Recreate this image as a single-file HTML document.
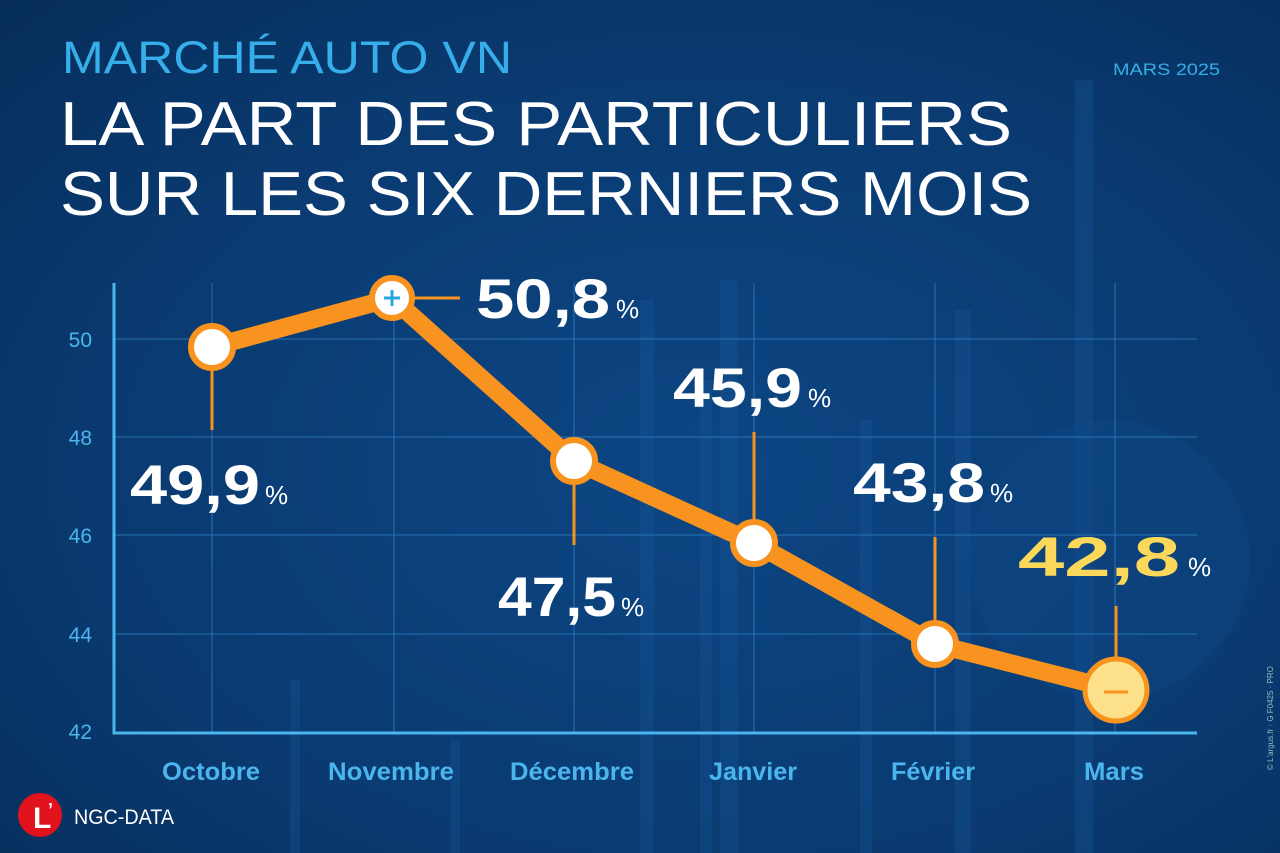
<!DOCTYPE html>
<html><head><meta charset="utf-8"><style>
html,body{margin:0;padding:0;width:1280px;height:853px;overflow:hidden;background:#093a6e}
svg{display:block}
</style></head><body>
<svg width="1280" height="853" viewBox="0 0 1280 853" xmlns="http://www.w3.org/2000/svg" font-family="Liberation Sans, sans-serif">
<defs>
<radialGradient id="bg" cx="0.55" cy="0.55" r="0.8">
<stop offset="0" stop-color="#0c4684"/><stop offset="0.6" stop-color="#0a3a70"/><stop offset="1" stop-color="#062c58"/>
</radialGradient>
</defs>
<rect width="1280" height="853" fill="url(#bg)"/>
<g fill="#1a5a9c" opacity="0.3">
<rect x="640" y="300" width="14" height="553"/><rect x="700" y="380" width="12" height="473"/><rect x="720" y="280" width="18" height="573"/>
<rect x="955" y="310" width="16" height="543"/><rect x="1075" y="80" width="18" height="773"/><rect x="450" y="740" width="10" height="113"/>
<rect x="290" y="680" width="10" height="173"/><rect x="860" y="420" width="12" height="433"/>
</g>
<circle cx="1110" cy="560" r="140" fill="#0d4a8a" opacity="0.35"/>
<text x="62" y="73" font-size="45" fill="#35aee9" textLength="450" lengthAdjust="spacingAndGlyphs">MARCHÉ AUTO VN</text>
<text x="1113" y="75" font-size="17" fill="#35aee9" textLength="107" lengthAdjust="spacingAndGlyphs">MARS 2025</text>
<text x="60" y="145" font-size="62" fill="#ffffff" textLength="952" lengthAdjust="spacingAndGlyphs">LA PART DES PARTICULIERS</text>
<text x="60" y="215" font-size="62" fill="#ffffff" textLength="972" lengthAdjust="spacingAndGlyphs">SUR LES SIX DERNIERS MOIS</text>
<g stroke="#2e7fc4" stroke-width="1" opacity="0.8">
<line x1="114" y1="339" x2="1197" y2="339"/><line x1="114" y1="437" x2="1197" y2="437"/>
<line x1="114" y1="535" x2="1197" y2="535"/><line x1="114" y1="634" x2="1197" y2="634"/>
<line x1="212" y1="283" x2="212" y2="733"/><line x1="394" y1="283" x2="394" y2="733"/>
<line x1="574" y1="283" x2="574" y2="733"/><line x1="754" y1="283" x2="754" y2="733"/>
<line x1="935" y1="283" x2="935" y2="733"/><line x1="1115" y1="283" x2="1115" y2="733"/>
</g>
<polyline points="114,283 114,733 1197,733" fill="none" stroke="#4bb6ee" stroke-width="3"/>
<g font-size="21" fill="#4bb6ee" text-anchor="end">
<text x="92" y="347">50</text><text x="92" y="445">48</text><text x="92" y="543">46</text><text x="92" y="642">44</text><text x="92" y="739">42</text>
</g>
<g font-size="25" fill="#4bb6ee" text-anchor="middle" font-weight="bold">
<text x="211" y="780" textLength="98" lengthAdjust="spacingAndGlyphs">Octobre</text>
<text x="391" y="780" textLength="126" lengthAdjust="spacingAndGlyphs">Novembre</text>
<text x="572" y="780" textLength="124" lengthAdjust="spacingAndGlyphs">Décembre</text>
<text x="753" y="780" textLength="88" lengthAdjust="spacingAndGlyphs">Janvier</text>
<text x="933" y="780" textLength="84" lengthAdjust="spacingAndGlyphs">Février</text>
<text x="1114" y="780" textLength="60" lengthAdjust="spacingAndGlyphs">Mars</text>
</g>
<g stroke="#f7931e" stroke-width="3">
<line x1="212" y1="347" x2="212" y2="430"/><line x1="392" y1="298" x2="460" y2="298"/>
<line x1="574" y1="461" x2="574" y2="545"/><line x1="754" y1="432" x2="754" y2="543"/>
<line x1="935" y1="537" x2="935" y2="644"/><line x1="1116" y1="606" x2="1116" y2="690"/>
</g>
<polyline points="212,347 392,298 574,461 754,543 935,644 1116,690" fill="none" stroke="#f7931e" stroke-width="18" stroke-linejoin="round"/>
<g fill="#fff" stroke="#f7931e" stroke-width="6">
<circle cx="212" cy="347" r="21"/><circle cx="392" cy="298" r="20"/><circle cx="574" cy="461" r="21"/>
<circle cx="754" cy="543" r="21"/><circle cx="935" cy="644" r="21"/>
</g>
<circle cx="1116" cy="690" r="31" fill="#fde08a" stroke="#f7931e" stroke-width="5"/>
<line x1="1104" y1="692" x2="1128" y2="692" stroke="#f7931e" stroke-width="3"/>
<g stroke="#29a8e0" stroke-width="3"><line x1="384" y1="298" x2="400" y2="298"/><line x1="392" y1="290" x2="392" y2="306"/></g>
<g font-weight="bold" font-size="56" fill="#fff" lengthAdjust="spacingAndGlyphs">
<text x="130" y="504" textLength="130" lengthAdjust="spacingAndGlyphs">49,9</text>
<text x="476" y="318" textLength="134" lengthAdjust="spacingAndGlyphs">50,8</text>
<text x="498" y="616" textLength="118" lengthAdjust="spacingAndGlyphs">47,5</text>
<text x="673" y="407" textLength="129" lengthAdjust="spacingAndGlyphs">45,9</text>
<text x="853" y="502" textLength="132" lengthAdjust="spacingAndGlyphs">43,8</text>
<text x="1018" y="576" textLength="162" lengthAdjust="spacingAndGlyphs" fill="#fbd85a">42,8</text>
</g>
<g font-size="26" fill="#fff">
<text x="265" y="504">%</text><text x="616" y="318">%</text><text x="621" y="616">%</text>
<text x="808" y="407">%</text><text x="990" y="502">%</text><text x="1188" y="576">%</text>
</g>
<circle cx="40" cy="815" r="22" fill="#e2121c"/>
<text x="33" y="828" font-size="30" font-weight="bold" fill="#fff">L</text>
<text x="48" y="816" font-size="18" font-weight="bold" fill="#fff">’</text>
<text x="74" y="824" font-size="21" fill="#fff" textLength="100" lengthAdjust="spacingAndGlyphs">NGC-DATA</text>
<text transform="translate(1273,770) rotate(-90)" font-size="8" fill="#9bb">© L'argus.fr · G F0425 · PRO</text>
</svg>
</body></html>
